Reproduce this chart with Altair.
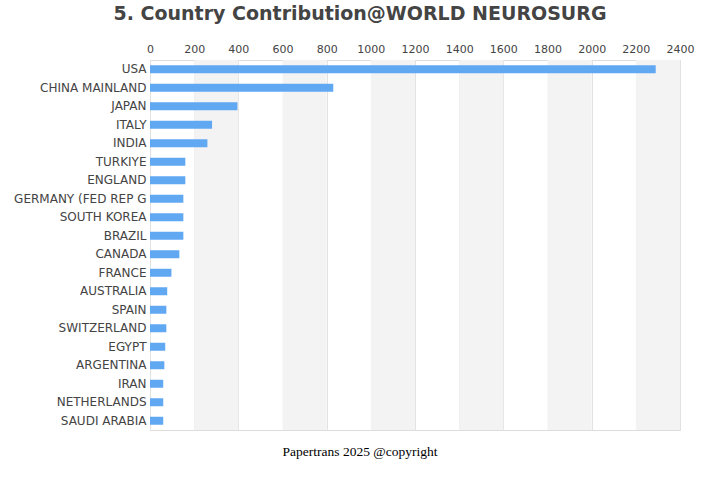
import altair as alt
import pandas as pd

countries = ["USA", "CHINA MAINLAND", "JAPAN", "ITALY", "INDIA", "TURKIYE", "ENGLAND",
             "GERMANY (FED REP G", "SOUTH KOREA", "BRAZIL", "CANADA", "FRANCE", "AUSTRALIA",
             "SPAIN", "SWITZERLAND", "EGYPT", "ARGENTINA", "IRAN", "NETHERLANDS", "SAUDI ARABIA"]
counts = [2290, 830, 396, 281, 260, 160, 160, 151, 151, 151, 133, 97, 78, 74, 74, 69, 65, 60, 60, 60]

band_starts = [200, 600, 1000, 1400, 1800, 2200]
band_ends = [400, 800, 1200, 1600, 2000, 2400]

df = pd.DataFrame({"country": countries, "count": counts})
bands = pd.DataFrame({"start": band_starts, "end": band_ends})

xscale = alt.Scale(domain=[0, 2400], nice=False)

bg = alt.Chart(bands).mark_rect(color="#f3f3f3").encode(
    x=alt.X("start:Q", scale=xscale),
    x2="end:Q",
)

bars = alt.Chart(df).mark_bar(color="#61a8f2", size=8).encode(
    x=alt.X("count:Q", scale=xscale, title=None,
            axis=alt.Axis(orient="top", values=list(range(0, 2401, 200)), format="d",
                          labelFontSize=11, labelColor="#444", labelFont="DejaVu Sans",
                          ticks=False, domain=False, labelPadding=6, grid=True,
                          gridColor="#e2e2e2", labelFlush=False)),
    y=alt.Y("country:N", sort=countries, title=None,
            axis=alt.Axis(labelFontSize=12, labelColor="#444", labelFont="DejaVu Sans",
                          ticks=False, domain=False, labelPadding=4, labelLimit=200)),
)

footer = alt.Chart(pd.DataFrame({"t": ["Papertrans 2025 @copyright"]})).mark_text(
    font="Liberation Serif", fontSize=13.5, color="#000", align="center", baseline="middle"
).encode(text="t:N", x=alt.value(210), y=alt.value(392))

chart = alt.layer(bg, bars, footer).properties(
    width=530, height=370,
    title=alt.TitleParams("5. Country Contribution@WORLD NEUROSURG", fontSize=19, font="DejaVu Sans",
                          fontWeight="bold", color="#444", anchor="middle", dx=-55, offset=19),
    autosize=alt.AutoSizeParams(type="none"),
    padding={"left": 150, "top": 60, "right": 40, "bottom": 50},
).configure_view(stroke="#dddddd", strokeWidth=1.5).configure(background="white")

chart.save("out.html", embed_options={"renderer": "svg", "actions": False})
